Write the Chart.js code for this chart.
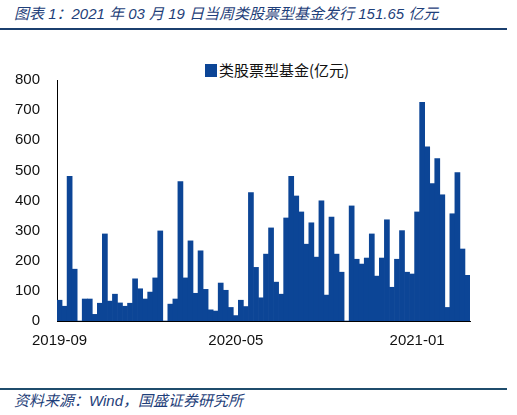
<!DOCTYPE html>
<html>
<head>
<meta charset="utf-8">
<script src="https://cdn.jsdelivr.net/npm/chart.js@4.4.1/dist/chart.umd.min.js"></script>
<style>
    html, body {
        margin: 0;
        padding: 0;
        background: #ffffff;
    }

    #page {
        position: relative;
        width: 517px;
        height: 415px;
        overflow: hidden;
        background: #ffffff;
    }

    .caption {
        position: absolute;
        left: 14px;
        font-family: "Liberation Sans", "Noto Sans CJK SC", sans-serif;
        font-style: italic;
        font-size: 15px;
        color: #1f3f7a;
        white-space: nowrap;
    }

    .rule {
        position: absolute;
        left: 0;
        width: 507px;
        height: 2px;
        background: #1b3f6e;
    }

    #legend {
        position: absolute;
        left: 205px;
        top: 60px;
        font-family: "Noto Sans CJK SC", sans-serif;
        font-size: 15px;
        color: #111111;
        white-space: nowrap;
        line-height: 20px;
    }

    #legend i {
        display: inline-block;
        width: 12px;
        height: 13px;
        margin-right: 2px;
        vertical-align: -1px;
        background: #0c4596;
    }

    #box {
        position: absolute;
        left: -2px;
        top: 54px;
        width: 519px;
        height: 307px;
    }
</style>
</head>
<body>
<div id="page">
    <div class="caption" style="top: 2px;">图表 1：2021 年 03 月 19 日当周类股票型基金发行 151.65 亿元</div>
    <div class="rule" style="top: 28px;"></div>

    <div id="legend"><i></i>类股票型基金(亿元)</div>

    <div id="box"><canvas id="chart"></canvas></div>

    <div class="rule" style="top: 388px; background: #1f4c6c;"></div>
    <div class="caption" style="top: 389px;">资料来源：Wind，国盛证券研究所</div>
</div>

<script>
// weekly dates (Friday of each week)
const weeks = [
    "2019-08-30", "2019-09-06", "2019-09-13", "2019-09-20", "2019-09-27",
    "2019-10-04", "2019-10-11", "2019-10-18", "2019-10-25", "2019-11-01",
    "2019-11-08", "2019-11-15", "2019-11-22", "2019-11-29", "2019-12-06",
    "2019-12-13", "2019-12-20", "2019-12-27", "2020-01-03", "2020-01-10",
    "2020-01-17", "2020-01-24", "2020-01-31", "2020-02-07", "2020-02-14",
    "2020-02-21", "2020-02-28", "2020-03-06", "2020-03-13", "2020-03-20",
    "2020-03-27", "2020-04-03", "2020-04-10", "2020-04-17", "2020-04-24",
    "2020-05-01", "2020-05-08", "2020-05-15", "2020-05-22", "2020-05-29",
    "2020-06-05", "2020-06-12", "2020-06-19", "2020-06-26", "2020-07-03",
    "2020-07-10", "2020-07-17", "2020-07-24", "2020-07-31", "2020-08-07",
    "2020-08-14", "2020-08-21", "2020-08-28", "2020-09-04", "2020-09-11",
    "2020-09-18", "2020-09-25", "2020-10-02", "2020-10-09", "2020-10-16",
    "2020-10-23", "2020-10-30", "2020-11-06", "2020-11-13", "2020-11-20",
    "2020-11-27", "2020-12-04", "2020-12-11", "2020-12-18", "2020-12-25",
    "2021-01-01", "2021-01-08", "2021-01-15", "2021-01-22", "2021-01-29",
    "2021-02-05", "2021-02-12", "2021-02-19", "2021-02-26", "2021-03-05",
    "2021-03-12", "2021-03-19"
];

// 类股票型基金发行规模 (亿元)
const issuance = [
    69, 49, 480, 172, 0, 73, 73, 22, 59, 289,
    66, 89, 60, 49, 59, 140, 107, 73, 96, 143,
    299, 0, 56, 73, 463, 143, 266, 92, 233, 105,
    37, 33, 126, 102, 45, 18, 69, 48, 426, 178,
    77, 222, 309, 129, 89, 342, 480, 415, 362, 255,
    326, 212, 399, 86, 345, 222, 162, 0, 382, 205,
    189, 209, 289, 149, 209, 336, 112, 205, 300, 162,
    156, 362, 726, 578, 456, 539, 419, 45, 356, 493,
    239, 151.65
];

// x axis labels shown
const tickWeeks = { 0: "2019-09", 35: "2020-05", 71: "2021-01" };
const yTicks = [0, 100, 200, 300, 400, 500, 600, 700, 800];

const axisFont = {
    family: "Liberation Sans",
    size: 15
};

new Chart(document.getElementById("chart"), {
    type: "bar",

    data: {
        labels: weeks,

        datasets: [
            {
                label: "类股票型基金(亿元)",
                data: issuance,
                backgroundColor: "#0c4596",
                borderWidth: 0,
                barPercentage: 1,
                categoryPercentage: 1
            }
        ]
    },

    options: {
        responsive: true,
        maintainAspectRatio: false,
        animation: false,

        layout: {
            padding: { left: 0, right: 47, top: 0, bottom: 0 }
        },

        plugins: {
            legend: { display: false },
            tooltip: { enabled: false }
        },

        scales: {
            x: {
                grid: { display: false, drawTicks: false },
                border: { display: true, color: "#000000", width: 1 },
                ticks: {
                    autoSkip: false,
                    maxRotation: 0,
                    padding: 11,
                    color: "#111111",
                    font: axisFont,
                    callback: (value, index) => tickWeeks[index] || ""
                }
            },

            y: {
                min: yTicks[0],
                max: yTicks[yTicks.length - 1],
                grid: { display: false, drawTicks: false },
                border: { display: true, color: "#000000", width: 1 },
                afterBuildTicks: (axis) => {
                    axis.ticks = yTicks.map((v) => ({ value: v }));
                },
                ticks: {
                    padding: 17,
                    color: "#111111",
                    font: axisFont
                }
            }
        }
    }
});
</script>
</body>
</html>
